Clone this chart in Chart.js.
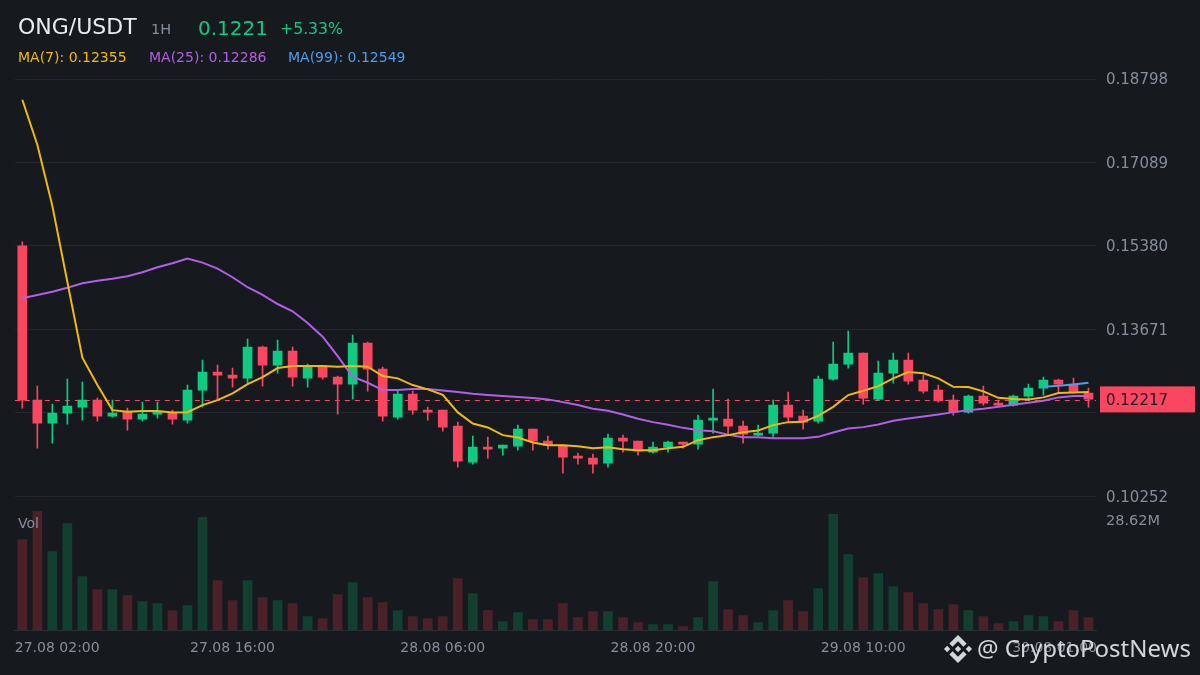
<!DOCTYPE html>
<html><head><meta charset="utf-8">
<style>
html,body{margin:0;padding:0;background:#161a1e;width:1200px;height:675px;overflow:hidden;font-family:"DejaVu Sans",sans-serif}
#wrap{position:relative;width:1200px;height:675px}
canvas{position:absolute;left:0;top:0}
.t{position:absolute;white-space:nowrap;line-height:1}
</style>
<script src="https://cdn.jsdelivr.net/npm/chart.js@4"></script>
</head><body><div id="wrap">
<canvas id="c" width="1200" height="675"></canvas>
<div class="t" style="left:18px;top:16px;font-size:22px;color:#eaecef">ONG/USDT</div>
<div class="t" style="left:151px;top:22px;font-size:14.5px;color:#848e9c">1H</div>
<div class="t" style="left:198px;top:18px;font-size:20px;color:#0ecb81">0.1221</div>
<div class="t" style="left:280px;top:21px;font-size:15.7px;color:#0ecb81">+5.33%</div>
<div class="t" style="left:18px;top:50px;font-size:14px;color:#f0b90b">MA(7): 0.12355</div>
<div class="t" style="left:149px;top:50px;font-size:14px;color:#b25ee8">MA(25): 0.12286</div>
<div class="t" style="left:288px;top:50px;font-size:14px;color:#4a9ef0">MA(99): 0.12549</div>
<div class="t" style="left:18px;top:516px;font-size:14px;color:#848e9c">Vol</div>
<div class="t" style="left:1106px;top:513px;font-size:14.5px;color:#848e9c">28.62M</div>
<svg style="position:absolute;left:944px;top:635px" width="28" height="28" viewBox="0 0 32 32">
 <g fill="#d4d6d9">
  <path d="M9.8 13.4L16 7.2l6.2 6.2 3.6-3.6L16 0 6.2 9.8z"/>
  <path d="M0 16l3.6-3.6L7.2 16l-3.6 3.6z"/>
  <path d="M9.8 18.6L16 24.8l6.2-6.2 3.6 3.6L16 32 6.2 22.2z"/>
  <path d="M24.8 16l3.6-3.6L32 16l-3.6 3.6z"/>
  <path d="M19.6 16L16 12.4 12.4 16l3.6 3.6z"/>
 </g>
</svg>
<div class="t" style="left:977px;top:636px;font-size:24px;font-family:'Noto Sans',sans-serif;color:#d4d6d9">@ CryptoPostNews</div>
</div>
<script>
const categories = ["27.08 02:00","27.08 03:00","27.08 04:00","27.08 05:00","27.08 06:00","27.08 07:00","27.08 08:00","27.08 09:00","27.08 10:00","27.08 11:00","27.08 12:00","27.08 13:00","27.08 14:00","27.08 15:00","27.08 16:00","27.08 17:00","27.08 18:00","27.08 19:00","27.08 20:00","27.08 21:00","27.08 22:00","27.08 23:00","28.08 00:00","28.08 01:00","28.08 02:00","28.08 03:00","28.08 04:00","28.08 05:00","28.08 06:00","28.08 07:00","28.08 08:00","28.08 09:00","28.08 10:00","28.08 11:00","28.08 12:00","28.08 13:00","28.08 14:00","28.08 15:00","28.08 16:00","28.08 17:00","28.08 18:00","28.08 19:00","28.08 20:00","28.08 21:00","28.08 22:00","28.08 23:00","29.08 00:00","29.08 01:00","29.08 02:00","29.08 03:00","29.08 04:00","29.08 05:00","29.08 06:00","29.08 07:00","29.08 08:00","29.08 09:00","29.08 10:00","29.08 11:00","29.08 12:00","29.08 13:00","29.08 14:00","29.08 15:00","29.08 16:00","29.08 17:00","29.08 18:00","29.08 19:00","29.08 20:00","29.08 21:00","29.08 22:00","29.08 23:00","30.08 00:00","30.08 01:00"];
const opens = [.15380,.12223,.11752,.11957,.12080,.12223,.11895,.11977,.11834,.11936,.11977,.11813,.12428,.12797,.12736,.12674,.13310,.12941,.13228,.12674,.12920,.12695,.12551,.13392,.12859,.11875,.12346,.12018,.12018,.11690,.10952,.11260,.11239,.11280,.11629,.11383,.11301,.11075,.11034,.10932,.11444,.11383,.11157,.11260,.11362,.11321,.11813,.11834,.11690,.11506,.11547,.12121,.11895,.11793,.12654,.12961,.13187,.12244,.12777,.13043,.12633,.12428,.12223,.11977,.12305,.12162,.12121,.12305,.12469,.12633,.12551,.12367];
const closes = [.12223,.11752,.11957,.12100,.12223,.11895,.11957,.11834,.11936,.11977,.11834,.12428,.12797,.12736,.12674,.13310,.12941,.13228,.12695,.12920,.12695,.12551,.13392,.12859,.11895,.12346,.12018,.11977,.11670,.10973,.11260,.11219,.11301,.11629,.11383,.11301,.11055,.11034,.10911,.11444,.11383,.11178,.11260,.11362,.11321,.11813,.11854,.11690,.11526,.11547,.12121,.11875,.11772,.12654,.12961,.13187,.12264,.12777,.13043,.12613,.12408,.12209,.11977,.12305,.12162,.12121,.12305,.12469,.12633,.12551,.12387,.12244];
const highs = [.15462,.12510,.12141,.12654,.12592,.12264,.12223,.12059,.12182,.12182,.12018,.12531,.13043,.12941,.12879,.13474,.13330,.13453,.13310,.12961,.12920,.12715,.13556,.13412,.12900,.12408,.12408,.12080,.12018,.11772,.11485,.11465,.11301,.11711,.11629,.11485,.11301,.11137,.11116,.11526,.11506,.11383,.11362,.11383,.11362,.11916,.12449,.12244,.11793,.11711,.12223,.12387,.12018,.12715,.13412,.13638,.13187,.13023,.13187,.13187,.12736,.12531,.12326,.12326,.12510,.12223,.12326,.12551,.12695,.12654,.12674,.12469];
const lows = [.12059,.11239,.11342,.11731,.11813,.11793,.11875,.11608,.11793,.11854,.11731,.11752,.12086,.12223,.12490,.12551,.12510,.12777,.12510,.12490,.12654,.11936,.12244,.12408,.11793,.11834,.11936,.11813,.11588,.10850,.10911,.11034,.11096,.11198,.11198,.11219,.10727,.10911,.10727,.10850,.11157,.11096,.11137,.11157,.11239,.11219,.11547,.11506,.11342,.11485,.11465,.11793,.11629,.11752,.12633,.12879,.12141,.12223,.12572,.12551,.12367,.12182,.11916,.11957,.12121,.12100,.12100,.12223,.12326,.12360,.12367,.12080];
const volumes = [21.84,28.62,18.94,25.71,12.89,9.75,9.75,8.30,6.85,6.36,4.67,5.88,27.17,11.93,7.09,11.93,7.81,7.09,6.36,3.22,2.73,8.54,11.44,7.81,6.60,4.67,3.22,2.73,3.22,12.41,8.78,4.67,2.01,4.18,2.49,2.49,6.36,2.98,4.43,4.43,2.98,1.77,1.28,1.28,0.80,2.98,11.68,4.91,3.46,1.77,4.67,7.09,4.43,9.99,27.89,18.22,12.65,13.62,10.47,9.02,6.36,4.91,6.12,4.67,3.22,1.52,2.01,3.46,3.22,2.01,4.67,2.98];
const ma7 = [.18373,.17451,.16200,.14642,.13090,.12531,.12018,.11983,.11998,.11998,.11971,.11977,.12121,.12223,.12361,.12551,.12695,.12879,.12920,.12920,.12920,.12906,.12920,.12906,.12715,.12668,.12531,.12443,.12332,.11971,.11745,.11663,.11506,.11458,.11356,.11301,.11301,.11280,.11239,.11260,.11219,.11198,.11198,.11239,.11266,.11403,.11465,.11506,.11567,.11602,.11711,.11772,.11778,.11901,.12086,.12326,.12414,.12510,.12668,.12797,.12771,.12668,.12496,.12490,.12402,.12270,.12244,.12238,.12279,.12367,.12381,.12387];
const ma25 = [.14308,.14376,.14443,.14525,.14616,.14669,.14710,.14759,.14841,.14944,.15026,.15120,.15038,.14915,.14739,.14534,.14376,.14191,.14042,.13802,.13521,.13125,.12701,.12578,.12428,.12428,.12449,.12449,.12422,.12387,.12352,.12326,.12305,.12285,.12264,.12238,.12182,.12121,.12045,.12004,.11930,.11840,.11772,.11717,.11655,.11608,.11588,.11512,.11465,.11465,.11444,.11444,.11444,.11471,.11561,.11643,.11670,.11725,.11799,.11848,.11889,.11930,.11977,.12018,.12045,.12086,.12127,.12168,.12209,.12279,.12305,.12305];
const ma99 = [null,null,null,null,null,null,null,null,null,null,null,null,null,null,null,null,null,null,null,null,null,null,null,null,null,null,null,null,null,null,null,null,null,null,null,null,null,null,null,null,null,null,null,null,null,null,null,null,null,null,null,null,null,null,null,null,null,null,null,null,null,null,null,null,null,null,null,null,.12496,.12516,.12545,.12578];
const priceTicks = [.18798,.17089,.15380,.13671,.11962,.10252];
const hiddenPriceTick = .11962;
const xTickIndexes = [0,14,28,42,56,71];
const lastPrice = .12217;

const UP='#0ecb81', DOWN='#fa4660', UPV='#123f2f', DOWNV='#4a2029', GRID='#24272c', TXT='#848e9c', BG='#161a1e';
const isUp = i => closes[i] >= opens[i];
const candleColors = categories.map((_,i)=>isUp(i)?UP:DOWN);
const volColors = categories.map((_,i)=>isUp(i)?UPV:DOWNV);

const priceLine = {
  id:'priceLine',
  beforeDatasetsDraw(ch){
    const y=ch.scales.y.getPixelForValue(lastPrice), a=ch.chartArea, c=ch.ctx;
    c.save();c.strokeStyle=DOWN;c.lineWidth=1;c.setLineDash([5,5]);
    c.beginPath();c.moveTo(a.left,Math.round(y)+.5);c.lineTo(a.right,Math.round(y)+.5);c.stroke();c.restore();
  },
  afterDraw(ch){
    const y=ch.scales.y.getPixelForValue(lastPrice), c=ch.ctx;
    c.save();c.fillStyle=DOWN;c.fillRect(1100,y-14,95,26);
    c.fillStyle=BG;c.font='15px "DejaVu Sans"';c.textBaseline='middle';c.textAlign='left';
    c.fillText(lastPrice.toFixed(5),1106,y+1);c.restore();
  }
};
const clampEnds = {
  id:'clampEnds',
  beforeDraw(ch){
    const s=ch.scales.x, a=ch.chartArea, c=ch.ctx;
    c.save();
    s.getLabelItems().forEach(it=>{
      c.font=it.font.string;
      const w=c.measureText(it.label).width/2, tr=it.options.translation;
      tr[0]=Math.min(Math.max(tr[0],a.left+w),a.right+1-w);
    });
    ch.scales.y.getLabelItems().forEach(it=>{it.options.translation[1]+=1.5;});
    c.restore();
  }
};

new Chart(document.getElementById('c'),{
  data:{labels:categories,datasets:[
    {type:'line',label:'MA(7)',data:ma7,yAxisID:'y',borderColor:'#f0b90b',borderWidth:2,pointRadius:0,tension:0,order:1},
    {type:'line',label:'MA(25)',data:ma25,yAxisID:'y',borderColor:'#b25ee8',borderWidth:2,pointRadius:0,tension:0,order:2},
    {type:'line',label:'MA(99)',data:ma99,yAxisID:'y',borderColor:'#4a9ef0',borderWidth:2,pointRadius:0,tension:0,order:3},
    {type:'bar',label:'Body',data:categories.map((_,i)=>[opens[i],closes[i]]),yAxisID:'y',backgroundColor:candleColors,barThickness:9,grouped:false,borderSkipped:false,order:4},
    {type:'bar',label:'Wick',data:categories.map((_,i)=>[lows[i],highs[i]]),yAxisID:'y',backgroundColor:candleColors,barThickness:1,grouped:false,borderSkipped:false,order:5},
    {type:'bar',label:'Vol',data:volumes,yAxisID:'v',backgroundColor:volColors,barThickness:9,grouped:false,order:6}
  ]},
  options:{
    responsive:false,animation:false,
    layout:{padding:{left:14.8,top:79,right:0,bottom:0}},
    plugins:{legend:{display:false},tooltip:{enabled:false}},
    scales:{
      x:{type:'category',offset:true,position:'bottom',
        grid:{display:false,drawTicks:false},
        border:{color:'#2a2e33',width:1},
        ticks:{color:TXT,font:{family:'"DejaVu Sans"',size:14},padding:10,autoSkip:false,maxRotation:0,minRotation:0,
          callback(v){return categories[v];}},
        afterBuildTicks(s){s.ticks=xTickIndexes.map(v=>({value:v}));},
        afterFit(s){s.height=45;s.paddingLeft=0;s.paddingRight=0;}
      },
      y:{type:'linear',position:'right',stack:'p',stackWeight:417,min:.10252,max:.18798,
        grid:{color:GRID,drawTicks:false},border:{display:false},
        ticks:{color:TXT,font:{family:'"DejaVu Sans"',size:15},padding:10,
          callback(v){return Math.abs(v-hiddenPriceTick)<1e-6?'':v.toFixed(5);}},
        afterBuildTicks(s){s.ticks=priceTicks.map(v=>({value:v}));},
        afterFit(s){s.width=104;}
      },
      v:{type:'linear',position:'right',stack:'p',stackWeight:133.5,min:0,max:32.25,
        grid:{display:false,drawTicks:false},border:{display:false},
        ticks:{display:false},
        afterFit(s){s.width=104;}
      }
    }
  },
  plugins:[priceLine,clampEnds]
});
</script>
</body></html>
